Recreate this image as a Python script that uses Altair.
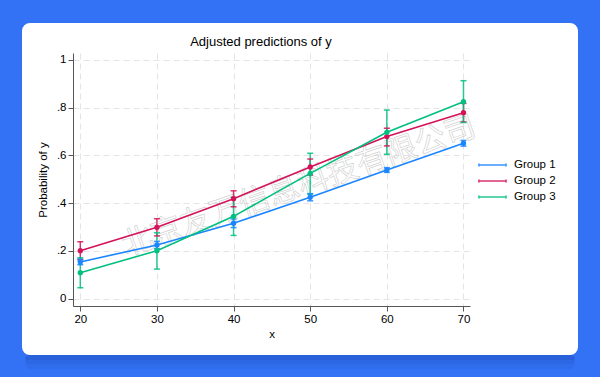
import altair as alt
import pandas as pd

x_vals = [20, 30, 40, 50, 60, 70]
groups = ["Group 1", "Group 2", "Group 3"]
colors = ["#1A85FF", "#D41159", "#00BF7F"]

g1_mean = [0.154, 0.225, 0.316, 0.425, 0.539, 0.651]
g1_lo = [0.142, 0.210, 0.298, 0.410, 0.529, 0.639]
g1_hi = [0.166, 0.240, 0.334, 0.440, 0.549, 0.663]

g2_mean = [0.201, 0.299, 0.419, 0.552, 0.679, 0.779]
g2_lo = [0.163, 0.263, 0.385, 0.518, 0.640, 0.740]
g2_hi = [0.239, 0.335, 0.452, 0.585, 0.714, 0.818]

g3_mean = [0.109, 0.201, 0.345, 0.525, 0.697, 0.825]
g3_lo = [0.046, 0.124, 0.265, 0.438, 0.605, 0.738]
g3_hi = [0.172, 0.276, 0.425, 0.609, 0.790, 0.913]

y_ticks = [0, 0.2, 0.4, 0.6, 0.8, 1.0]
title_text = "Adjusted predictions of y"
watermark = "北京友万信息科技有限公司"

BLUE = "#3372F5"
FONT = "Liberation Sans"

rows = []
for g, m, lo, hi in zip(groups, [g1_mean, g2_mean, g3_mean], [g1_lo, g2_lo, g3_lo], [g1_hi, g2_hi, g3_hi]):
    for xv, mv, lv, hv in zip(x_vals, m, lo, hi):
        rows.append({"group": g, "x": xv, "mean": mv, "lo": lv, "hi": hv})
df = pd.DataFrame(rows)
dummy = pd.DataFrame({"a": [0]})

xenc = alt.X("x:Q", scale=alt.Scale(domain=[19.05, 70.85], nice=False, zero=False),
             axis=alt.Axis(values=x_vals, title="x", format="d"))
color_enc = alt.Color("group:N", scale=alt.Scale(domain=groups, range=colors),
                      legend=alt.Legend(title=None, orient="none", legendX=405, legendY=106,
                                        symbolType="M-1,0L1,0M-1,-0.12L-1,0.12M1,-0.12L1,0.12",
                                        symbolSize=730, symbolStrokeWidth=1.6,
                                        symbolFillColor="transparent", clipHeight=12,
                                        labelFontSize=11.5, labelFont=FONT, labelColor="black",
                                        rowPadding=4, labelOffset=7))

frame = alt.Chart(dummy).mark_rect(fillOpacity=0, stroke=BLUE, strokeWidth=60, cornerRadius=38).encode(
    x=alt.value(-81), x2=alt.value(535), y=alt.value(-60), y2=alt.value(332))

shadows = [
    alt.Chart(dummy).mark_rect(color="#001a66", opacity=op, cornerRadius=6).encode(
        x=alt.value(-48), x2=alt.value(502), y=alt.value(302), y2=alt.value(302 + h))
    for op, h in [(0.06, 14), (0.06, 9), (0.08, 5)]
]

title = alt.Chart(dummy).mark_text(text=title_text, font=FONT, fontSize=13, color="black",
                                   align="center", baseline="middle").encode(
    x=alt.value(188), y=alt.value(-11))

wm = alt.Chart(dummy).mark_text(text=watermark, font="Noto Sans CJK SC", fontSize=31, angle=341,
                                fillOpacity=0, stroke="#cdcdcd", strokeWidth=0.6).encode(
    x=alt.value(226), y=alt.value(134))

rules = alt.Chart(df).mark_rule(strokeWidth=1.5, opacity=0.85).encode(
    x=xenc,
    y=alt.Y("lo:Q", scale=alt.Scale(domain=[-0.0305, 1.029], nice=False, zero=False),
            axis=alt.Axis(values=y_ticks, title="Probability of y",
                          labelExpr="datum.value == 0 ? '0' : datum.value == 1 ? '1' : replace(format(datum.value, '.1f'), '0.', '.')")),
    y2="hi:Q", color=color_enc, detail="group:N")
cap_lo = alt.Chart(df).mark_tick(orient="horizontal", size=6, thickness=1.5, opacity=0.85).encode(
    x="x:Q", y="lo:Q", color=color_enc)
cap_hi = alt.Chart(df).mark_tick(orient="horizontal", size=6, thickness=1.5, opacity=0.85).encode(
    x="x:Q", y="hi:Q", color=color_enc)
lines = alt.Chart(df).mark_line(strokeWidth=1.6).encode(
    x="x:Q", y="mean:Q", color=color_enc)
points = alt.Chart(df).mark_point(filled=True, size=28, opacity=1).encode(
    x="x:Q", y="mean:Q", color=color_enc)

chart = alt.layer(frame, *shadows, title, wm, rules, cap_lo, cap_hi, lines, points).properties(
    width=397, height=253,
    padding={"left": 73, "top": 53, "right": 130, "bottom": 71},
    autosize="none",
    background="white",
).configure_view(stroke=None).configure_axis(
    domainColor="#555555", tickColor="#555555", tickSize=5, labelColor="black",
    labelFont=FONT, labelFontSize=11.5, titleFont=FONT, titleFontSize=11.5, titleFontWeight="normal",
    titleColor="black", gridColor="#e4e4e4", gridDash=[6, 4], labelPadding=2,
).configure_axisY(titlePadding=8).configure_axisX(titlePadding=4)

chart.save("out.html", embed_options={"renderer": "svg", "actions": False})
